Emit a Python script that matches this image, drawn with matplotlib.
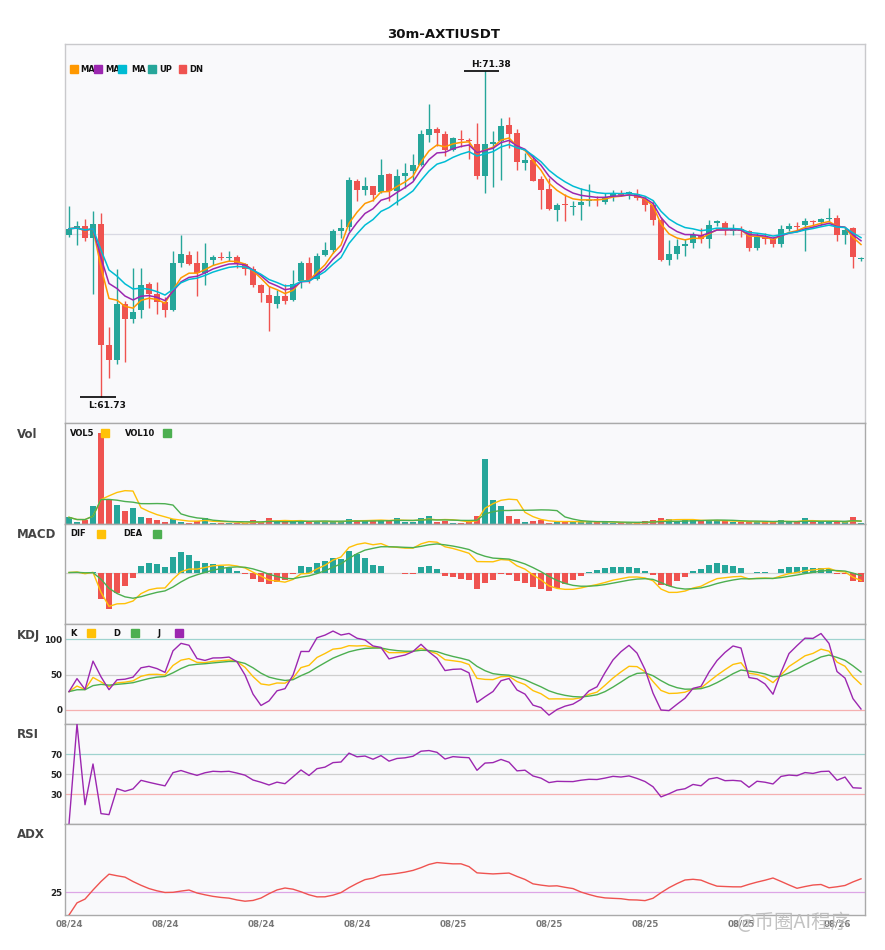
import numpy as np
import pandas as pd
import matplotlib
matplotlib.use("Agg")
import matplotlib.pyplot as plt
from matplotlib.patches import Rectangle

plt.rcParams['font.family'] = ['DejaVu Sans']

# ---------------- data ----------------
title = "30m-AXTIUSDT"
opens = [66.52, 66.73, 66.81, 66.46, 66.87, 63.27, 62.82, 64.50, 64.06, 64.30,
         65.09, 64.79, 64.54, 64.32, 65.72, 65.95, 65.70, 65.41, 65.78, 65.87,
         65.84, 65.88, 65.68, 65.54, 65.04, 64.76, 64.49, 64.73, 64.60, 65.16,
         65.72, 65.24, 65.95, 66.10, 66.64, 66.76, 68.14, 67.88, 67.99, 67.80,
         68.35, 67.83, 68.27, 68.42, 68.62, 69.51, 69.68, 69.54, 69.04, 69.39,
         69.36, 69.23, 68.27, 69.23, 69.31, 69.80, 69.56, 68.67, 68.75, 68.19,
         67.91, 67.28, 67.44, 67.36, 67.41, 67.55, 67.57, 67.50, 67.68, 67.77,
         67.76, 67.76, 67.59, 67.41, 66.99, 65.80, 65.98, 66.20, 66.31, 66.54,
         66.42, 66.89, 66.89, 66.64, 66.71, 66.64, 66.14, 66.49, 66.41, 66.27,
         66.72, 66.79, 66.82, 66.94, 66.91, 67.01, 67.04, 66.52, 66.74, 65.82]
highs = [67.38, 66.94, 67.02, 67.25, 67.20, 63.80, 65.54, 64.59, 65.56, 65.56,
         65.13, 65.13, 64.70, 66.07, 66.54, 66.07, 66.07, 66.31, 65.95, 66.02,
         66.07, 65.95, 65.70, 65.62, 65.09, 65.01, 64.91, 65.08, 65.49, 65.75,
         65.88, 66.00, 66.34, 66.71, 67.01, 68.24, 68.20, 68.25, 68.00, 68.80,
         68.36, 68.50, 68.67, 68.94, 69.63, 70.40, 69.73, 69.61, 69.44, 69.65,
         69.41, 69.85, 71.38, 69.61, 70.00, 70.03, 69.68, 68.96, 68.91, 68.27,
         68.22, 67.48, 67.76, 67.55, 67.93, 68.05, 67.70, 67.78, 67.88, 67.88,
         67.83, 67.91, 67.70, 67.58, 67.08, 66.39, 66.41, 66.41, 66.61, 66.74,
         66.99, 66.99, 66.94, 66.87, 66.79, 66.69, 66.59, 66.59, 66.49, 66.84,
         66.89, 66.91, 67.04, 66.99, 67.04, 67.33, 67.13, 66.77, 66.76, 65.88]
lows = [66.49, 66.25, 66.37, 64.79, 61.73, 62.31, 62.71, 62.78, 63.94, 64.09,
        64.37, 64.20, 64.12, 64.27, 65.60, 65.65, 64.73, 65.06, 65.65, 65.78,
        65.77, 65.57, 65.36, 64.99, 64.54, 63.68, 64.37, 64.49, 64.57, 64.96,
        65.11, 65.19, 65.90, 66.00, 66.45, 66.64, 67.53, 67.73, 67.53, 67.78,
        67.53, 67.43, 67.93, 68.17, 68.57, 69.28, 69.16, 68.86, 69.01, 69.14,
        68.80, 68.19, 67.78, 67.97, 68.15, 69.11, 68.47, 68.45, 68.12, 67.31,
        67.28, 66.94, 66.94, 67.14, 66.99, 67.38, 67.38, 67.46, 67.55, 67.68,
        67.61, 67.56, 67.26, 66.84, 65.75, 65.65, 65.82, 65.90, 66.15, 66.31,
        66.15, 66.81, 66.52, 66.52, 66.49, 66.05, 66.08, 66.28, 66.18, 66.18,
        66.64, 66.64, 66.05, 66.81, 66.84, 66.94, 66.37, 66.28, 65.57, 65.75]
closes = [66.72, 66.81, 66.46, 66.87, 63.27, 62.82, 64.50, 64.06, 64.26, 65.06,
          64.79, 64.54, 64.30, 65.70, 65.98, 65.68, 65.41, 65.71, 65.88, 65.84,
          65.88, 65.72, 65.53, 65.06, 64.82, 64.52, 64.73, 64.57, 65.09, 65.72,
          65.21, 65.92, 66.10, 66.66, 66.74, 68.17, 67.86, 67.99, 67.73, 68.32,
          67.85, 68.27, 68.37, 68.62, 69.54, 69.68, 69.55, 69.04, 69.41, 69.36,
          69.33, 68.29, 69.23, 69.30, 69.77, 69.53, 68.69, 68.77, 68.14, 67.88,
          67.31, 67.43, 67.41, 67.40, 67.51, 67.58, 67.56, 67.66, 67.78, 67.73,
          67.80, 67.63, 67.41, 66.99, 65.80, 65.98, 66.20, 66.28, 66.54, 66.41,
          66.84, 66.94, 66.69, 66.71, 66.66, 66.14, 66.49, 66.41, 66.27, 66.72,
          66.81, 66.77, 66.96, 66.91, 67.02, 67.04, 66.52, 66.69, 65.87, 65.83]
volumes = [67, 23, 43, 183, 910, 253, 193, 133, 163, 73,
           63, 37, 23, 50, 23, 13, 33, 60, 7, 7,
           7, 13, 10, 43, 17, 63, 27, 27, 27, 27,
           20, 27, 23, 23, 23, 53, 43, 27, 37, 37,
           33, 63, 17, 25, 60, 83, 23, 33, 13, 13,
           27, 83, 653, 243, 183, 83, 53, 23, 27, 43,
           13, 20, 20, 27, 27, 23, 17, 20, 10, 10,
           7, 7, 33, 43, 63, 53, 27, 37, 43, 27,
           43, 27, 27, 23, 20, 23, 23, 20, 20, 43,
           23, 20, 63, 20, 20, 20, 20, 23, 73, 7]
tick_idx = [0, 12, 24, 36, 48, 60, 72, 84, 96]
tick_labels = ["08/24", "08/24", "08/24", "08/24", "08/25",
               "08/25", "08/25", "08/25", "08/26"]
watermark = "@币圈AI程序"

# ---------------- derived indicators ----------------
df = pd.DataFrame({"open": opens, "high": highs, "low": lows,
                   "close": closes, "vol": volumes})
n = len(df)
x = np.arange(n)
c, h, l = df.close, df.high, df.low

ma_a = c.ewm(span=5, adjust=False).mean()
ma_b = c.ewm(span=7, adjust=False).mean()
ma_c = c.ewm(span=10, adjust=False).mean()

vol5 = df.vol.rolling(5, min_periods=1).mean()
vol10 = df.vol.rolling(10, min_periods=1).mean()

dif = c.ewm(span=6, adjust=False).mean() - c.ewm(span=13, adjust=False).mean()
dea = dif.ewm(span=5, adjust=False).mean()
hist = 2 * (dif - dea)

ll = l.rolling(9, min_periods=1).min()
hh = h.rolling(9, min_periods=1).max()
rsv = ((c - ll) / (hh - ll) * 100).fillna(50)
K = rsv.ewm(alpha=1/3, adjust=False).mean()
D = K.ewm(alpha=1/3, adjust=False).mean()
J = 3 * K - 2 * D

d = c.diff()
gain = d.clip(lower=0)
loss = (-d).clip(lower=0)
ag = gain.ewm(alpha=1/14, adjust=True).mean()
al = loss.ewm(alpha=1/14, adjust=True).mean()
rsi = (100 * ag / (ag + al)).fillna(0)

up = h.diff()
dn = -l.diff()
pdm = pd.Series(np.where((up > dn) & (up > 0), up, 0.0))
mdm = pd.Series(np.where((dn > up) & (dn > 0), dn, 0.0))
pc = c.shift(1)
tr = pd.concat([h - l, (h - pc).abs(), (l - pc).abs()], axis=1).max(axis=1)
trs = tr.ewm(span=14, adjust=False).mean()
pdi = 100 * pdm.ewm(span=14, adjust=False).mean() / trs
mdi = 100 * mdm.ewm(span=14, adjust=False).mean() / trs
dx = (100 * (pdi - mdi).abs() / (pdi + mdi)).fillna(0)
adx = dx.ewm(span=14, adjust=False).mean()

# ---------------- styling ----------------
UP = "#26a69a"
DN = "#ef5350"
C_ORA = "#ff9800"
C_PUR = "#9c27b0"
C_CYA = "#00bcd4"
C_AMB = "#ffc107"
C_GRN = "#4caf50"
BG = "#f9f9fb"
W, H = 885, 950

fig = plt.figure(figsize=(8.85, 9.5), dpi=100)
fig.patch.set_facecolor("white")


def fr(px_l, px_t, px_r, px_b):
    return [px_l / W, 1 - px_b / H, (px_r - px_l) / W, (px_b - px_t) / H]


L, R = 65, 865
ax_main = fig.add_axes(fr(L, 44, R, 423))
ax_vol = fig.add_axes(fr(L, 423, R, 524), sharex=ax_main)
ax_macd = fig.add_axes(fr(L, 524, R, 624), sharex=ax_main)
ax_kdj = fig.add_axes(fr(L, 624, R, 724), sharex=ax_main)
ax_rsi = fig.add_axes(fr(L, 724, R, 824), sharex=ax_main)
ax_adx = fig.add_axes(fr(L, 824, R, 915), sharex=ax_main)
axes = [ax_main, ax_vol, ax_macd, ax_kdj, ax_rsi, ax_adx]

for i, ax in enumerate(axes):
    ax.set_facecolor(BG)
    for s in ax.spines.values():
        s.set_color("#c9c9cc" if i == 0 else "#aaaaaa")
        s.set_linewidth(1.0)
    ax.tick_params(axis="both", length=0, labelsize=6.3, pad=2)
    ax.tick_params(axis="x", labelbottom=False)
    ax.set_yticks([])
    ax.set_xlim(-0.5, n - 0.5)

colors = [UP if cc >= oo else DN for oo, cc in zip(opens, closes)]

# ---- main candles ----
ax_main.vlines(x, df.low, df.high, colors=colors, linewidth=1.0, zorder=2)
body_lo = np.minimum(df.open, df.close)
body_h = np.maximum((df.close - df.open).abs(), 0.03)
ax_main.bar(x, body_h, bottom=body_lo, width=0.75, color=colors,
            linewidth=0, zorder=3)
ax_main.plot(x, ma_a, color=C_ORA, lw=1.1, zorder=4)
ax_main.plot(x, ma_b, color=C_PUR, lw=1.1, zorder=4)
ax_main.plot(x, ma_c, color=C_CYA, lw=1.1, zorder=4)
hi, lo = df.high.max(), df.low.min()
rng = hi - lo
ax_main.set_ylim(lo - 0.079 * rng, hi + 0.084 * rng)
ax_main.axhline((hi + lo) / 2, color="#d9d9e3", lw=0.9, zorder=1)
ih, il = int(df.high.idxmax()), int(df.low.idxmin())
ax_main.hlines(hi, ih - 2.6, ih + 1.8, color="black", lw=1.2, zorder=5)
ax_main.text(ih + 0.8, hi + 0.06, f"H:{hi:.2f}", ha="center", va="bottom",
             fontsize=6.5, fontweight="bold", color="#111")
ax_main.hlines(lo, il - 2.6, il + 1.9, color="black", lw=1.2, zorder=5)
ax_main.text(il + 0.7, lo - 0.1, f"L:{lo:.2f}", ha="center", va="top",
             fontsize=6.5, fontweight="bold", color="#111")

# ---- volume ----
ax_vol.bar(x, df.vol, width=0.7, color=colors, linewidth=0, zorder=2)
ax_vol.plot(x, vol5, color=C_AMB, lw=1.0, zorder=3)
ax_vol.plot(x, vol10, color=C_GRN, lw=1.0, zorder=3)
ax_vol.set_ylim(0, df.vol.max() * 1.113)

# ---- MACD ----
hcol = [UP if v >= 0 else DN for v in hist]
ax_macd.bar(x, hist, width=0.78, color=hcol, linewidth=0, zorder=2)
ax_macd.plot(x, dif, color=C_AMB, lw=1.0, zorder=3)
ax_macd.plot(x, dea, color=C_GRN, lw=1.0, zorder=3)
ax_macd.axhline(0, color="#d5d5d5", lw=0.9, zorder=1)
m = max(dif.abs().max(), dea.abs().max(), hist.abs().max()) * 1.38
ax_macd.set_ylim(-m * 1.03, m * 0.97)

# ---- KDJ ----
ax_kdj.plot(x, K, color=C_AMB, lw=1.0, zorder=3)
ax_kdj.plot(x, D, color=C_GRN, lw=1.0, zorder=3)
ax_kdj.plot(x, J, color=C_PUR, lw=1.0, zorder=3)
ax_kdj.axhline(100, color="#9fd3cf", lw=0.9, zorder=1)
ax_kdj.axhline(50, color="#cfcfcf", lw=0.9, zorder=1)
ax_kdj.axhline(0, color="#f5b0b0", lw=0.9, zorder=1)
ax_kdj.set_ylim(-20, 121.6)
ax_kdj.set_yticks([0, 50, 100])

# ---- RSI ----
ax_rsi.plot(x, rsi, color=C_PUR, lw=1.0, zorder=3)
ax_rsi.axhline(70, color="#9fd3cf", lw=0.9, zorder=1)
ax_rsi.axhline(50, color="#cfcfcf", lw=0.9, zorder=1)
ax_rsi.axhline(30, color="#f5b0b0", lw=0.9, zorder=1)
ax_rsi.set_ylim(0, 100)
ax_rsi.set_yticks([30, 50, 70])

# ---- ADX ----
ax_adx.plot(x, adx, color=DN, lw=1.0, zorder=3)
ax_adx.axhline(25, color="#dda6e6", lw=0.9, zorder=1)
ax_adx.set_ylim(0, 100)
ax_adx.set_yticks([25])

for ax in (ax_kdj, ax_rsi, ax_adx):
    for t in ax.get_yticklabels():
        t.set_fontweight("bold")
        t.set_color("#222")

ax_adx.set_xticks(tick_idx)
ax_adx.set_xticklabels(tick_labels)
ax_adx.tick_params(axis="x", labelbottom=True, labelsize=6.3, pad=3,
                   labelcolor="#777")
for t in ax_adx.get_xticklabels():
    t.set_fontweight("bold")

# ---------------- texts / legends ----------------
def ftxt(px, py, s, **kw):
    fig.text(px / W, 1 - py / H, s, **kw)


def fsq(px_l, py_c, color, size=8):
    fig.patches.append(Rectangle((px_l / W, 1 - (py_c + size / 2) / H),
                                 size / W, size / H, color=color,
                                 transform=fig.transFigure, zorder=10))


ftxt(444, 34, title, ha="center", va="center", fontsize=9.5,
     fontweight="bold", color="#111")

lkw = dict(ha="left", va="center", fontsize=6, fontweight="bold",
           color="#111", zorder=9)
# main legend
fsq(70, 69, C_ORA, 7.5)
ftxt(80.5, 69, "MA", **lkw)
fsq(94, 69, C_PUR, 7.5)
ftxt(105, 69, "MA", **lkw)
fsq(118, 69, C_CYA, 7.5)
ftxt(131.5, 69, "MA", **lkw)
fsq(148, 69, UP, 7.5)
ftxt(159, 69, "UP", **lkw)
fsq(178.5, 69, DN, 7.5)
ftxt(189, 69, "DN", **lkw)
# vol legend
ftxt(70, 433.5, "VOL5", **lkw)
fsq(101, 433, C_AMB)
ftxt(125, 433.5, "VOL10", **lkw)
fsq(163, 433, C_GRN)
# macd legend
ftxt(70, 534, "DIF", **lkw)
fsq(97, 533.5, C_AMB)
ftxt(123, 534, "DEA", **lkw)
fsq(153, 533.5, C_GRN)
# kdj legend
ftxt(70, 633.5, "K", **lkw)
fsq(87, 633, C_AMB)
ftxt(113, 633.5, "D", **lkw)
fsq(131, 633, C_GRN)
ftxt(157, 633.5, "J", **lkw)
fsq(175, 633, C_PUR)

pkw = dict(ha="left", va="center", fontsize=8.5, fontweight="bold",
           color="#444")
for name, py in [("Vol", 435), ("MACD", 535), ("KDJ", 635),
                 ("RSI", 735), ("ADX", 835)]:
    ftxt(17, py, name, **pkw)

ftxt(737, 923, watermark, ha="left", va="center", fontsize=14,
     color="#b8b8b8", alpha=0.85,
     family=["Noto Sans CJK SC", "DejaVu Sans"], zorder=20)

fig.savefig("out.png", dpi=100, facecolor="white")
